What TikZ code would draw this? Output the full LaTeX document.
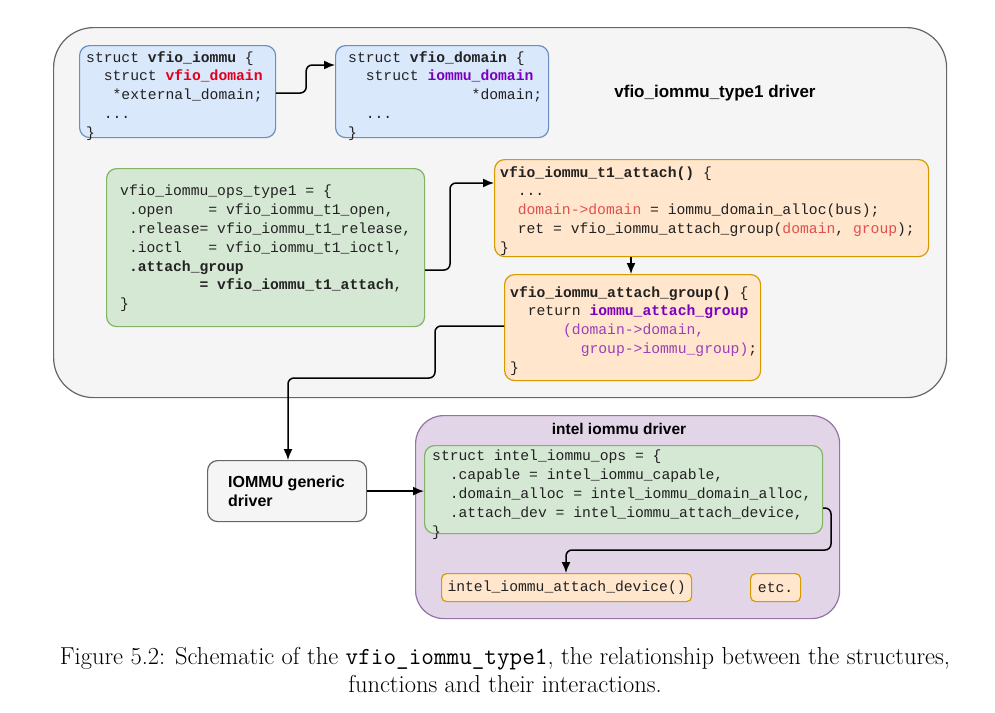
\documentclass[tikz,border=0pt]{standalone}
\usepackage{fontspec}
\newfontfamily\code{Liberation Mono}
\newfontfamily\sans{Liberation Sans}
\usetikzlibrary{calc,arrows.meta}
\definecolor{gfill}{HTML}{F5F5F5}\definecolor{gline}{HTML}{666666}
\definecolor{bfill}{HTML}{DAE8FC}\definecolor{bline}{HTML}{6C8EBF}
\definecolor{grfill}{HTML}{D5E8D4}\definecolor{grline}{HTML}{82B366}
\definecolor{ofill}{HTML}{FFE6CC}\definecolor{oline}{HTML}{D79B00}
\definecolor{pfill}{HTML}{E1D5E7}\definecolor{pline}{HTML}{9673A6}
\definecolor{cred}{HTML}{E0001B}\definecolor{cpur}{HTML}{7A00C0}
\definecolor{lred}{HTML}{E05050}\definecolor{lpur}{HTML}{9C40B8}
\definecolor{ctxt}{HTML}{222222}
\begin{document}
\begin{tikzpicture}[x=1pt,y=-1pt,
  box/.style={draw=#1line,fill=#1fill,line width=1.2pt,rounded corners=10pt,anchor=north west,inner sep=0},
  txt/.style={anchor=north west,inner sep=0,align=left,font=\code\fontsize{14.7}{18.8}\selectfont,text=ctxt},
  arr/.style={-{Latex[length=11pt,width=9pt]},line width=1.5pt,rounded corners=6pt}]
\useasboundingbox (0,0) rectangle (995,712);
% outer
\node[box=g,rounded corners=40pt,minimum width=893,minimum height=370] (outer) at (53,27) {};
\node[font=\sans\bfseries\fontsize{17}{19}\selectfont] (title) at (715,93) {vfio\_iommu\_type1 driver};
% blue boxes
\node[box=b,minimum width=196,minimum height=92] (vi) at (79,45) {};
\node[txt] (vit) at (86,51) {struct \textbf{vfio\_iommu} \{\\~~struct \textbf{\color{cred}vfio\_domain}\\~~~*external\_domain;\\~~...\\\}};
\node[box=b,minimum width=213,minimum height=92] (vd) at (335,45) {};
\node[txt] (vdt) at (348,51) {struct \textbf{vfio\_domain} \{\\~~struct \textbf{\color{cpur}iommu\_domain}\\~~~~~~~~~~~~~~*domain;\\~~...\\\}};
% green ops
\node[box=gr,minimum width=318,minimum height=158] (ops) at (106,168) {};
\node[txt] (opst) at (120,185) {vfio\_iommu\_ops\_type1 = \{\\~.open~~~~= vfio\_iommu\_t1\_open,\\~.release= vfio\_iommu\_t1\_release,\\~.ioctl~~~= vfio\_iommu\_t1\_ioctl,\\~\textbf{.attach\_group}\\~~~~~~~~~\textbf{= vfio\_iommu\_t1\_attach},\\\}};
% orange
\node[box=o,minimum width=434,minimum height=97] (t1) at (494,159) {};
\node[txt] (t1t) at (500,166) {\textbf{vfio\_iommu\_t1\_attach()} \{\\~~...\\~~{\color{lred}domain->domain} = iommu\_domain\_alloc(bus);\\~~ret = vfio\_iommu\_attach\_group({\color{lred}domain}, {\color{lred}group});\\\}};
\node[box=o,minimum width=256,minimum height=106] (ag) at (504,274) {};
\node[txt] (agt) at (510,286) {\textbf{vfio\_iommu\_attach\_group()} \{\\~~return \textbf{\color{cpur}iommu\_attach\_group}\\~~~~~~{\color{lpur}(domain->domain,}\\~~~~~~~~{\color{lpur}group->iommu\_group)};\\\}};
% generic
\node[box=g,minimum width=159,minimum height=61] (gen) at (207,460) {};
\node[anchor=west,align=left,font=\sans\bfseries\fontsize{16}{19}\selectfont,inner sep=0] (gent) at (228,491) {IOMMU generic\\driver};
% intel
\node[box=p,rounded corners=28pt,minimum width=424,minimum height=203] (intel) at (415,415) {};
\node[font=\sans\bfseries\fontsize{15.5}{18}\selectfont] (intelt) at (619,429) {intel iommu driver};
\node[box=gr,minimum width=398,minimum height=88] (io) at (424,445) {};
\node[txt] (iot) at (432,450) {struct intel\_iommu\_ops = \{\\~~.capable = intel\_iommu\_capable,\\~~.domain\_alloc = intel\_iommu\_domain\_alloc,\\~~.attach\_dev = intel\_iommu\_attach\_device,\\\}};
\node[box=o,rounded corners=5pt,minimum width=250,minimum height=28] (ad) at (441,573) {};
\node[txt,anchor=center] (adt) at (ad.center) {intel\_iommu\_attach\_device()};
\node[box=o,rounded corners=5pt,minimum width=50,minimum height=28] (etc) at (750,573) {};
\node[txt,anchor=center] (etct) at (etc.center) {etc.};
% arrows
\draw[arr] ($(vi.north east)+(0,48)$) -| ($(vi.north east)+(30,20)$) -- ($(vd.north west)+(0,20)$);
\draw[arr] ($(ops.north east)+(0,102)$) -| ($(t1.north west)+(-44,24)$) -- ($(t1.north west)+(0,24)$);
\draw[arr] (t1.south -| 631,0) -- (ag.north -| 631,0);
\draw[arr] ($(ag.north west)+(0,52)$) -| (435,378) -| (gen.north -| 288,0);
\draw[arr] (gen.east) -- (gen.east -| io.west);
\draw[arr] ($(io.north east)+(0,63)$) -| (831,550) -| (ad.north -| 566,0);
% caption
\node[font=\fontsize{24.5}{28}\selectfont,align=center] (cap) at (505,670) {Figure 5.2: Schematic of the \texttt{vfio\_iommu\_type1}, the relationship between the structures,\\functions and their interactions.};
\end{tikzpicture}
\end{document}
